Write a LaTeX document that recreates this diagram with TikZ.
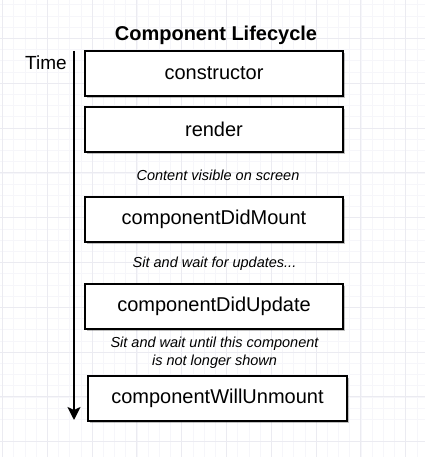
\documentclass[tikz,border=0pt]{standalone}
\usepackage{fontspec}
\setmainfont{Liberation Sans}
\usetikzlibrary{arrows.meta,shadows}
\definecolor{gridminor}{RGB}{246,246,250}
\definecolor{gridmajor}{RGB}{235,235,241}
\tikzset{
  stagebox/.style={draw=black, line width=2pt, fill=white, minimum width=258pt, minimum height=45pt, inner sep=0pt,
    font=\fontsize{20}{24}\selectfont, drop shadow={shadow xshift=2pt, shadow yshift=-2pt, fill=black, opacity=0.25}},
  note/.style={font=\fontsize{14.5}{18}\selectfont\itshape, align=center, inner sep=0pt},
  timeline/.style={line width=2pt, -{Stealth[length=13pt,width=13pt,inset=3pt]}},
}
\begin{document}
\begin{tikzpicture}[x=1pt,y=-1pt]
\useasboundingbox (0,0) rectangle (425,457);
\fill[white] (0,0) rectangle (425,457);
% grid
\begin{scope}
\clip (0,0) rectangle (425,457);
\foreach \i in {-4,...,34} {
  \draw[gridminor, line width=0.6pt] ({47.2+11.2*\i},0) -- ({47.2+11.2*\i},457);
  \draw[gridminor, line width=0.6pt] (0,{38.4+11.2*\i}) -- (425,{38.4+11.2*\i});
}
\foreach \i in {-1,...,9} {
  \draw[gridmajor, line width=0.8pt] ({47.2+44.8*\i},0) -- ({47.2+44.8*\i},457);
  \draw[gridmajor, line width=0.8pt] (0,{38.4+44.8*\i}) -- (425,{38.4+44.8*\i});
}
\end{scope}
% title
\node[anchor=base, inner sep=0pt, font=\fontsize{20}{24}\selectfont\bfseries] (title) at (216,41) {Component Lifecycle};
% time label and arrow
\node[anchor=base, inner sep=0pt, font=\fontsize{19}{23}\selectfont] (time) at (46,70) {Time};
\coordinate (tstart) at (74,51);
\coordinate (tend) at (74,420);
\draw[timeline] (tstart) -- (tend);
% boxes
\node[stagebox] (constructor) at (214,73.5) {constructor};
\node[stagebox] (render) at (214,129.5) {render};
\node[note] (visible) at (218,175) {Content visible on screen};
\node[stagebox] (didmount) at (214,219) {componentDidMount};
\node[note] (waitupd) at (214.5,264) {Sit and wait for updates...};
\node[stagebox] (didupdate) at (214,306) {componentDidUpdate};
\node[note] (waitunmount) at (214.5,353) {Sit and wait until this component\\is not longer shown};
\node[stagebox, minimum width=259pt] (willunmount) at (217.5,398.5) {componentWillUnmount};
\end{tikzpicture}
\end{document}
